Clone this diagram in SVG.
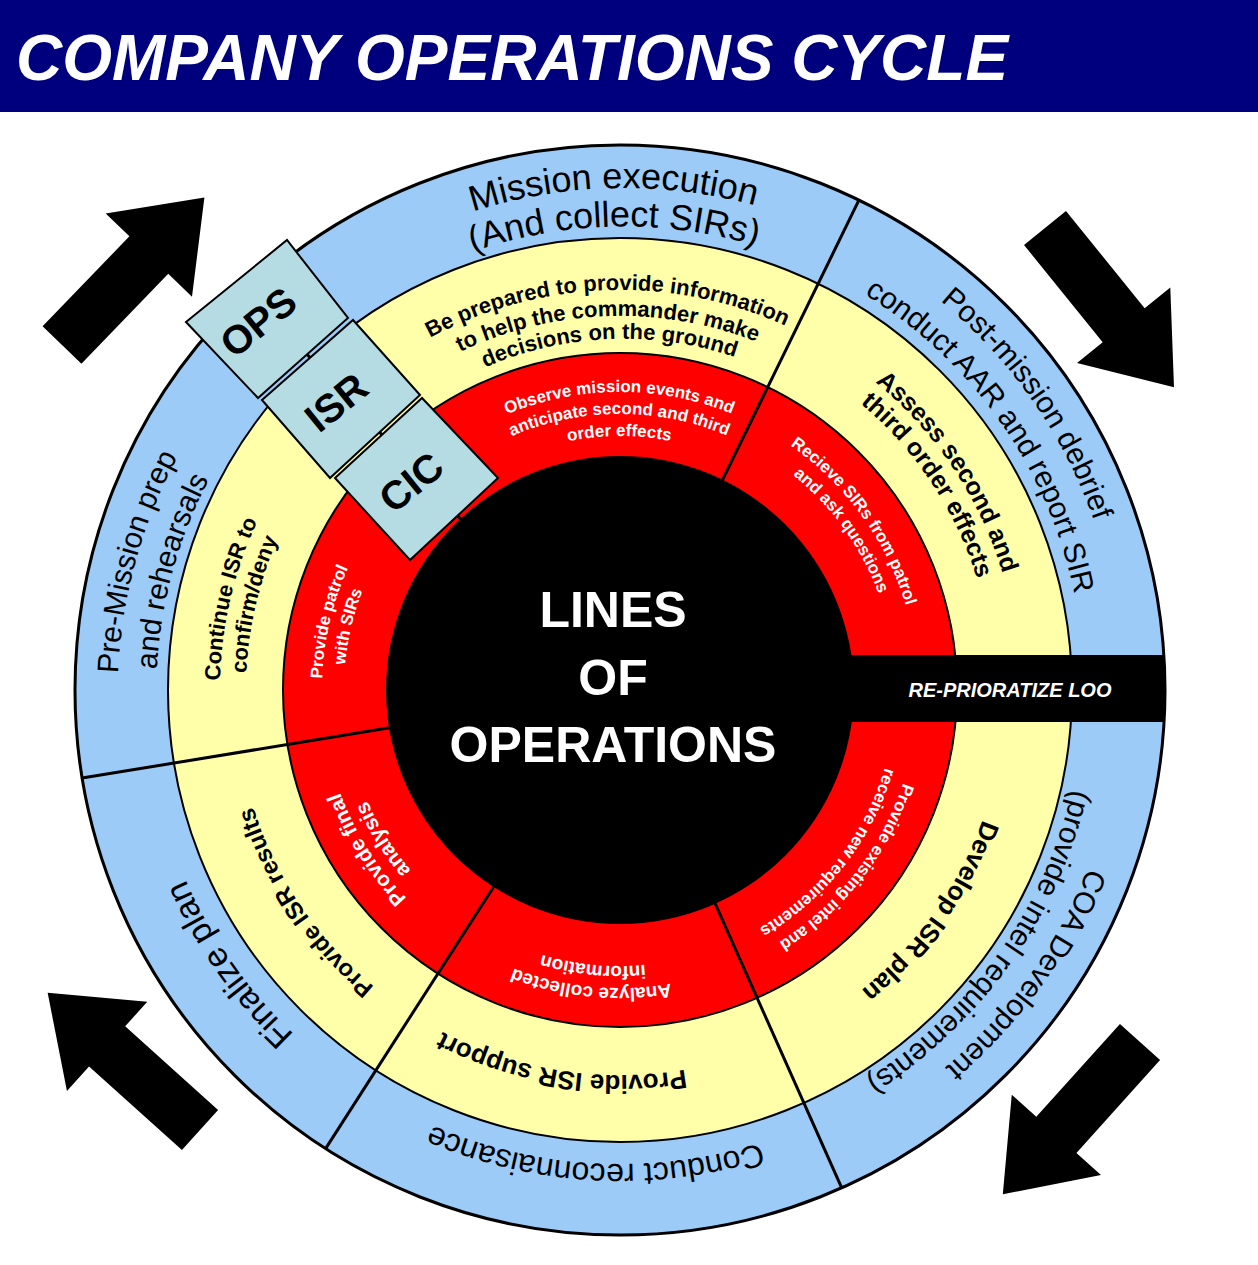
<svg xmlns="http://www.w3.org/2000/svg" xmlns:xlink="http://www.w3.org/1999/xlink" width="1258" height="1265" viewBox="0 0 1258 1265">
<style>
text{font-family:"Liberation Sans",Arial,sans-serif;text-anchor:middle}
.o{font-size:33px;fill:#000}
.y{font-size:22px;font-weight:bold;fill:#000}
.r{font-size:17px;font-weight:bold;fill:#fff}
.div{stroke:#000;stroke-width:3}
.box{fill:#B4DCE2;stroke:#000;stroke-width:2}
.bx{font-size:40px;font-weight:bold;fill:#000}
</style>
<defs>
<path id="c498" d="M280.4,325.8 A498,498 0 1 1 959.6,1054.2 A498,498 0 1 1 280.4,325.8"/>
<path id="c460" d="M306.3,353.6 A460,460 0 1 1 933.7,1026.4 A460,460 0 1 1 306.3,353.6"/>
<path id="c474" d="M296.7,343.3 A474,474 0 1 1 943.3,1036.7 A474,474 0 1 1 296.7,343.3"/>
<path id="c400" d="M347.2,397.4 A400,400 0 1 1 892.8,982.6 A400,400 0 1 1 347.2,397.4"/>
<path id="c374" d="M364.9,416.5 A374,374 0 1 1 875.1,963.5 A374,374 0 1 1 364.9,416.5"/>
<path id="c348" d="M382.7,435.5 A348,348 0 1 1 857.3,944.5 A348,348 0 1 1 382.7,435.5"/>
<path id="c385" d="M357.4,408.4 A385,385 0 1 1 882.6,971.6 A385,385 0 1 1 357.4,408.4"/>
<path id="c298" d="M416.8,472 A298,298 0 1 1 823.2,908 A298,298 0 1 1 416.8,472"/>
<path id="c276" d="M431.8,488.1 A276,276 0 1 1 808.2,891.9 A276,276 0 1 1 431.8,488.1"/>
<path id="c254" d="M446.8,504.2 A254,254 0 1 1 793.2,875.8 A254,254 0 1 1 446.8,504.2"/>
<polygon id="arr" points="0,-27 125,-27 125,-60 205,0 125,60 125,27 0,27"/>
</defs>
<rect width="1258" height="1265" fill="#fff"/>
<g id="header">
<rect x="0" y="0" width="1258" height="112" fill="#00007F"/>
<text x="16" y="80" style="text-anchor:start;font-size:64px;font-weight:bold;font-style:italic;fill:#fff">COMPANY OPERATIONS CYCLE</text>
</g>
<g id="arrows" fill="#000">
<use xlink:href="#arr" transform="translate(62,345) rotate(-46)"/>
<use xlink:href="#arr" transform="translate(1045,228) rotate(51)"/>
<use xlink:href="#arr" transform="translate(1140,1042) rotate(132)"/>
<use xlink:href="#arr" transform="translate(200,1130) rotate(222)"/>
</g>
<g id="rings">
<circle cx="620" cy="690" r="545" fill="#9CCBF7" stroke="#000" stroke-width="3"/>
<circle cx="620" cy="690" r="452" fill="#FFFFAA" stroke="#000" stroke-width="2"/>
<circle cx="620" cy="690" r="337" fill="#FF0000" stroke="#000" stroke-width="2"/>
</g>
<g id="connectors">
<line class="div" x1="721.7" y1="481.5" x2="858.9" y2="200.2"/>
<line class="div" x1="714.4" y1="901.9" x2="841.7" y2="1187.9"/>
<line class="div" x1="494.7" y1="885.2" x2="325.6" y2="1148.6"/>
<line class="div" x1="391" y1="727.5" x2="82.1" y2="778.1"/>
<line class="div" x1="461.8" y1="520.3" x2="248.3" y2="291.4"/>
</g>
<g id="center">
<circle cx="620" cy="690" r="234" fill="#000"/>
<rect x="800" y="655" width="365" height="67" fill="#000"/>
<text x="1010" y="697" style="font-size:20px;font-weight:bold;font-style:italic;fill:#fff">RE-PRIORATIZE LOO</text>
<text x="613" y="627" style="font-size:50px;font-weight:bold;fill:#fff">LINES</text>
<text x="613" y="695" style="font-size:50px;font-weight:bold;fill:#fff">OF</text>
<text x="613" y="762" style="font-size:50px;font-weight:bold;fill:#fff">OPERATIONS</text>
</g>
<g id="outer-labels">
<text class="o" style="font-size:36px"><textPath href="#c498" startOffset="11.7%">Mission execution</textPath></text>
<text class="o" style="font-size:36px"><textPath href="#c460" startOffset="11.7%">(And collect SIRs)</textPath></text>
<text class="o" style="font-size:30px"><textPath href="#c498" startOffset="27.2%">Post-mission debrief</textPath></text>
<text class="o" style="font-size:30px"><textPath href="#c460" startOffset="27.2%">conduct AAR and report SIR</textPath></text>
<text class="o" style="font-size:30px"><textPath href="#c498" startOffset="46.7%">COA Development</textPath></text>
<text class="o" style="font-size:30px"><textPath href="#c460" startOffset="46.7%">(provide intel requirements)</textPath></text>
<text class="o" style="font-size:32px"><textPath href="#c474" startOffset="62.8%">Conduct reconnaisance</textPath></text>
<text class="o" style="font-size:34px"><textPath href="#c474" startOffset="77.2%">Finalize plan</textPath></text>
<text class="o" style="font-size:30px"><textPath href="#c498" startOffset="91.1%">Pre-Mission prep</textPath></text>
<text class="o" style="font-size:30px"><textPath href="#c460" startOffset="91.1%">and rehearsals</textPath></text>
</g>
<g id="yellow-labels">
<text class="y"><textPath href="#c400" startOffset="11.4%">Be prepared to provide information</textPath></text>
<text class="y"><textPath href="#c374" startOffset="11.4%">to help the commander make</textPath></text>
<text class="y"><textPath href="#c348" startOffset="11.4%">decisions on the ground</textPath></text>
<text class="y" style="font-size:25px"><textPath href="#c400" startOffset="27.6%">Assess second and</textPath></text>
<text class="y" style="font-size:25px"><textPath href="#c374" startOffset="27.6%">third order effects</textPath></text>
<text class="y" style="font-size:26px"><textPath href="#c385" startOffset="46.8%">Develop ISR plan</textPath></text>
<text class="y" style="font-size:26px"><textPath href="#c385" startOffset="64.4%">Provide ISR support</textPath></text>
<text class="y" style="font-size:24px"><textPath href="#c385" startOffset="77.5%">Provide ISR results</textPath></text>
<text class="y"><textPath href="#c400" startOffset="90.6%">Continue ISR to</textPath></text>
<text class="y"><textPath href="#c374" startOffset="90.6%">confirm/deny</textPath></text>
</g>
<g id="red-labels">
<text class="r"><textPath href="#c298" startOffset="11.9%">Observe mission events and</textPath></text>
<text class="r"><textPath href="#c276" startOffset="11.9%">anticipate second and third</textPath></text>
<text class="r"><textPath href="#c254" startOffset="11.9%">order effects</textPath></text>
<text class="r"><textPath href="#c298" startOffset="27%">Recieve SIRs from patrol</textPath></text>
<text class="r"><textPath href="#c276" startOffset="27%">and ask questions</textPath></text>
<text class="r"><textPath href="#c298" startOffset="47.5%">Provide existing intel and</textPath></text>
<text class="r"><textPath href="#c276" startOffset="47.5%">receive new requirements</textPath></text>
<text class="r" style="font-size:19px"><textPath href="#c298" startOffset="63.5%">Analyze collected</textPath></text>
<text class="r" style="font-size:19px"><textPath href="#c276" startOffset="63.5%">information</textPath></text>
<text class="r" style="font-size:21px"><textPath href="#c298" startOffset="78%">Provide final</textPath></text>
<text class="r" style="font-size:21px"><textPath href="#c276" startOffset="78%">analysis</textPath></text>
<text class="r"><textPath href="#c298" startOffset="90.6%">Provide patrol</textPath></text>
<text class="r"><textPath href="#c276" startOffset="90.6%">with SIRs</textPath></text>
</g>
<g id="box-ops">
<polygon class="box" points="186,322 287,240 348,318 258,398"/>
<text class="bx" transform="translate(267,333) rotate(-39)">OPS</text>
</g>
<g id="box-isr">
<polygon class="box" points="262,400 353,320 420,395 330,478"/>
<text class="bx" transform="translate(345,413) rotate(-39)">ISR</text>
</g>
<g id="box-cic">
<polygon class="box" points="335,478 422,398 498,478 410,560"/>
<text class="bx" transform="translate(420,493) rotate(-39)">CIC</text>
</g>
</svg>
